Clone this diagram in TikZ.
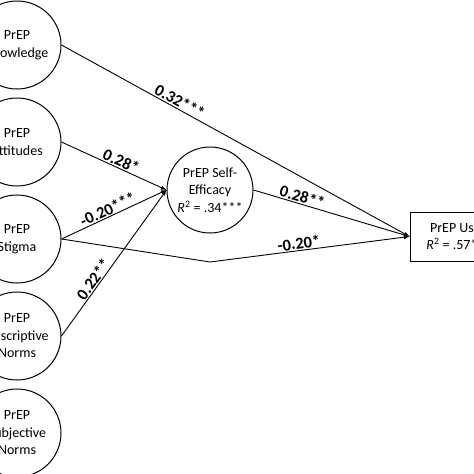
\documentclass[tikz,border=0pt]{standalone}
\usepackage{fontspec}
\setmainfont{Carlito}
\usetikzlibrary{arrows,positioning}

\begin{document}
\begin{tikzpicture}[
    x=1pt, y=-1pt,
    node distance=8pt,
    factor/.style={circle, draw, line width=1pt, minimum size=88pt, inner sep=0pt, align=center, font=\fontsize{14}{17.5}\selectfont},
    outcome/.style={rectangle, draw, line width=1pt, minimum width=91pt, minimum height=49pt, align=center, font=\fontsize{14}{17.5}\selectfont},
    arrow/.style={->, line width=0.9pt, >=latex},
    coef/.style={font=\fontsize{16.5}{18}\selectfont\bfseries, sloped, above, inner sep=1pt}
]
\path[use as bounding box, clip] (0,0) rectangle (474,474);

% Predictor circles
\node[factor] (know) at (17,45) {PrEP\\Knowledge};
\node[factor, below=of know] (att) {PrEP\\Attitudes};
\node[factor, below=of att] (stig) {PrEP\\Stigma};
\node[factor, below=of stig] (desc) {PrEP\\Descriptive\\Norms};
\node[factor, below=of desc] (subj) {PrEP\\Subjective\\Norms};

% Mediator and outcome
\node[factor, minimum size=86pt] (self) at (210,190) {PrEP Self-\\Efficacy\\\textit{R}\textsuperscript{2} = .34***};
\node[outcome] (use) at (455.5,236.5) {PrEP Use\\\textit{R}\textsuperscript{2} = .57**};
\coordinate (bend) at (210,262);

% Paths
\draw[arrow] (know.east) -- node[coef, pos=0.33] {0.32***} (use.west);
\draw[arrow] (att.east) -- node[coef, pos=0.54] {0.28*} (self.west);
\draw[arrow] (stig.east) -- node[coef, pos=0.47] {-0.20***} (self.west);
\draw[arrow] (desc.east) -- node[coef, pos=0.36] {0.22**} (self.west);
\draw[arrow] (self.east) -- node[coef, pos=0.3] {0.28**} (use.west);
\draw[arrow] (stig.east) -- (bend) -- node[coef, pos=0.45] {-0.20*} (use.west);

\end{tikzpicture}
\end{document}
